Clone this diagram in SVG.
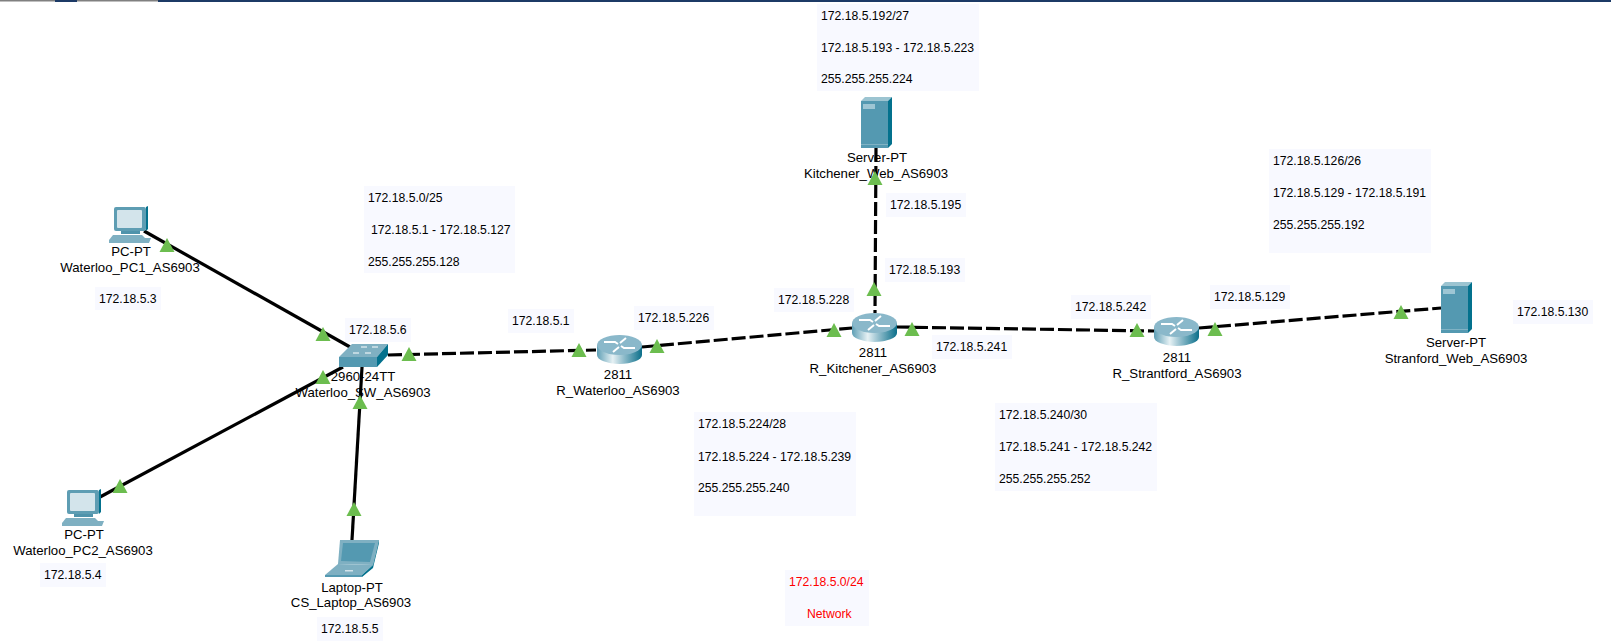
<svg xmlns="http://www.w3.org/2000/svg" width="1611" height="643" viewBox="0 0 1611 643">
<style>
text{font-family:"Liberation Sans",Arial,sans-serif;fill:#000}
.n{font-size:12.2px}
.l{font-size:13.2px;text-anchor:middle}
.red{fill:#f00}
.box{fill:#f8f9ff}
.solid{fill:none;stroke:#000;stroke-width:3.2}
.dash{fill:none;stroke:#000;stroke-width:3.2;stroke-dasharray:14 4}
</style>
<defs>
<linearGradient id="cyl" x1="0" x2="1" y1="0" y2="0">
<stop offset="0" stop-color="#5f9fb5"/><stop offset=".35" stop-color="#e6f1f4"/><stop offset=".6" stop-color="#8fbccb"/><stop offset="1" stop-color="#0b6f8a"/>
</linearGradient>
<polygon id="tri" points="0,-7 7.5,7 -7.5,7" fill="#6cbd4f"/>
<g id="server">
<polygon points="0,4 4,0 31,0 27,4" fill="#9cc4d1"/>
<rect x="0" y="4" width="27" height="47" fill="#5499b1"/>
<polygon points="27,4 31,0 31,47 27,51" fill="#03718d"/>
<rect x="2" y="7" width="12" height="5" fill="#9ec6d4"/>
<rect x="0" y="47" width="27" height="1" fill="#7fb2c4"/>
</g>
<g id="router">
<rect x="0" y="10" width="45" height="10" fill="url(#cyl)"/>
<ellipse cx="22.5" cy="20" rx="22.5" ry="9" fill="url(#cyl)"/>
<ellipse cx="22.5" cy="10" rx="22.5" ry="10" fill="#8ab8ca"/>
<path d="M7 7h11l3 2M38 13H27l-3-2M29 3l-6 5M16 17l6-5" fill="none" stroke="#fff" stroke-width="2"/>
</g>
<g id="switch">
<polygon points="0,13 13,0 49,0 38,13" fill="#7fb0c2"/>
<rect x="0" y="13" width="38" height="10" fill="#5499b1"/>
<polygon points="38,13 49,0 49,11 38,23" fill="#03718d"/>
<path d="M14 9h6M26 9h6M22 3h6M33 3h6" stroke="#fff" stroke-width="1"/>
</g>
<g id="pc">
<rect x="5" y="0" width="32" height="24" rx="2" fill="#5e9db3"/>
<polygon points="37,0 39,-1 39,22 37,24" fill="#03718d"/>
<rect x="8" y="3" width="25" height="18" rx="1" fill="#d3e4eb"/>
<rect x="12" y="24" width="19" height="3" fill="#4f93ab"/>
<polygon points="4,28 33,28 36,31 36,36 0,36 0,33" fill="#7fb0c2"/>
<polygon points="36,31 42,31 40,36 36,36" fill="#7fb0c2"/>
</g>
<g id="laptop">
<polygon points="15,0 54,0 48,25 13,24" fill="#7fb0c2"/>
<polygon points="18,3 50,3 45,22 16,21" fill="#5499b1"/>
<polygon points="13,24 48,25 37,35 0,35" fill="#7fb0c2"/>
<polygon points="0,35 37,35 37,37 0,37" fill="#5499b1"/>
<polygon points="54,0 54,3 48,28 37,37 37,35 48,25" fill="#03718d"/>
<rect x="20" y="30" width="8" height="1.5" fill="#d3e4eb"/>
</g>
</defs>
<rect width="1611" height="643" fill="#fff"/>
<g id="titlebar">
<rect x="0" y="0" width="1611" height="1.5" fill="#808080"/>
<rect x="55" y="0" width="22" height="2" fill="#1c3a66"/>
<rect x="158" y="0" width="1453" height="2" fill="#1c3a66"/>
</g>
<g id="connectors">
<path class="solid" d="M144 231L350 347"/>
<path class="solid" d="M100 497L343 367"/>
<path class="solid" d="M352 540L362 367"/>
<path class="dash" d="M388 355L596 350"/>
<path class="dash" d="M642 347L852 328"/>
<path class="dash" d="M876 148L875 313"/>
<path class="dash" d="M896 327L1154 331"/>
<path class="dash" d="M1199 328L1441 308"/>
</g>
<g id="note-lan">
<rect class="box" x="364" y="186" width="151" height="87"/>
<text class="n" x="368" y="202">172.18.5.0/25</text>
<text class="n" x="371" y="234">172.18.5.1 - 172.18.5.127</text>
<text class="n" x="368" y="266">255.255.255.128</text>
</g>
<g id="note-kitchener-web">
<rect class="box" x="817" y="4" width="162" height="87"/>
<text class="n" x="821" y="20">172.18.5.192/27</text>
<text class="n" x="821" y="52">172.18.5.193 - 172.18.5.223</text>
<text class="n" x="821" y="83">255.255.255.224</text>
</g>
<g id="note-stranford-web">
<rect class="box" x="1269" y="149" width="162" height="104"/>
<text class="n" x="1273" y="165">172.18.5.126/26</text>
<text class="n" x="1273" y="197">172.18.5.129 - 172.18.5.191</text>
<text class="n" x="1273" y="229">255.255.255.192</text>
</g>
<g id="note-link-wk">
<rect class="box" x="694" y="412" width="162" height="104"/>
<text class="n" x="698" y="428">172.18.5.224/28</text>
<text class="n" x="698" y="461">172.18.5.224 - 172.18.5.239</text>
<text class="n" x="698" y="492">255.255.255.240</text>
</g>
<g id="note-link-ks">
<rect class="box" x="995" y="403" width="162" height="88"/>
<text class="n" x="999" y="419">172.18.5.240/30</text>
<text class="n" x="999" y="451">172.18.5.241 - 172.18.5.242</text>
<text class="n" x="999" y="483">255.255.255.252</text>
</g>
<g id="note-network">
<rect class="box" x="785" y="570" width="84" height="56"/>
<text class="n red" x="789" y="586">172.18.5.0/24</text>
<text class="n red" x="807" y="618">Network</text>
</g>
<g id="ip-pc1"><rect class="box" x="95" y="287" width="66" height="23"/><text class="n" x="99" y="303">172.18.5.3</text></g>
<g id="ip-pc2"><rect class="box" x="40" y="563" width="66" height="24"/><text class="n" x="44" y="579">172.18.5.4</text></g>
<g id="ip-laptop"><rect class="box" x="317" y="617" width="66" height="24"/><text class="n" x="321" y="633">172.18.5.5</text></g>
<g id="ip-switch"><rect class="box" x="345" y="318" width="66" height="24"/><text class="n" x="349" y="334">172.18.5.6</text></g>
<g id="ip-rw-lan"><rect class="box" x="508" y="309" width="66" height="24"/><text class="n" x="512" y="325">172.18.5.1</text></g>
<g id="ip-rw-wan"><rect class="box" x="634" y="306" width="80" height="24"/><text class="n" x="638" y="322">172.18.5.226</text></g>
<g id="ip-rk-wan"><rect class="box" x="774" y="288" width="80" height="24"/><text class="n" x="778" y="304">172.18.5.228</text></g>
<g id="ip-rk-web"><rect class="box" x="885" y="258" width="80" height="24"/><text class="n" x="889" y="274">172.18.5.193</text></g>
<g id="ip-server-k"><rect class="box" x="886" y="193" width="80" height="24"/><text class="n" x="890" y="209">172.18.5.195</text></g>
<g id="ip-rk-s"><rect class="box" x="932" y="335" width="80" height="24"/><text class="n" x="936" y="351">172.18.5.241</text></g>
<g id="ip-rs-k"><rect class="box" x="1071" y="295" width="80" height="24"/><text class="n" x="1075" y="311">172.18.5.242</text></g>
<g id="ip-rs-web"><rect class="box" x="1210" y="285" width="80" height="24"/><text class="n" x="1214" y="301">172.18.5.129</text></g>
<g id="ip-server-s"><rect class="box" x="1513" y="300" width="80" height="24"/><text class="n" x="1517" y="316">172.18.5.130</text></g>
<g id="Waterloo_PC1"><use href="#pc" x="109" y="207"/><text class="l" x="131" y="256">PC-PT</text><text class="l" x="130" y="272">Waterloo_PC1_AS6903</text></g>
<g id="Waterloo_PC2"><use href="#pc" x="62" y="490"/><text class="l" x="84" y="539">PC-PT</text><text class="l" x="83" y="555">Waterloo_PC2_AS6903</text></g>
<g id="CS_Laptop"><use href="#laptop" x="325" y="540"/><text class="l" x="352" y="592">Laptop-PT</text><text class="l" x="351" y="607">CS_Laptop_AS6903</text></g>
<g id="Waterloo_SW"><use href="#switch" x="339" y="344"/><text class="l" x="363" y="381">2960-24TT</text><text class="l" x="363" y="397">Waterloo_SW_AS6903</text></g>
<g id="R_Waterloo"><use href="#router" x="597" y="335"/><text class="l" x="618" y="379">2811</text><text class="l" x="618" y="395">R_Waterloo_AS6903</text></g>
<g id="R_Kitchener"><use href="#router" x="852" y="313"/><text class="l" x="873" y="357">2811</text><text class="l" x="873" y="373">R_Kitchener_AS6903</text></g>
<g id="R_Strantford"><use href="#router" x="1154" y="317"/><text class="l" x="1177" y="362">2811</text><text class="l" x="1177" y="378">R_Strantford_AS6903</text></g>
<g id="Kitchener_Web"><use href="#server" x="861" y="97"/><text class="l" x="877" y="162">Server-PT</text><text class="l" x="876" y="178">Kitchener_Web_AS6903</text></g>
<g id="Stranford_Web"><use href="#server" x="1441" y="282"/><text class="l" x="1456" y="347">Server-PT</text><text class="l" x="1456" y="363">Stranford_Web_AS6903</text></g>
<g id="link-lights">
<use href="#tri" x="167" y="245"/><use href="#tri" x="323" y="334"/><use href="#tri" x="323" y="377"/><use href="#tri" x="409" y="354"/><use href="#tri" x="360" y="402"/><use href="#tri" x="120" y="486"/><use href="#tri" x="354" y="509"/><use href="#tri" x="579" y="350"/><use href="#tri" x="657" y="346"/><use href="#tri" x="834" y="330"/><use href="#tri" x="912" y="329"/><use href="#tri" x="875" y="178"/><use href="#tri" x="874" y="289"/><use href="#tri" x="1137" y="330"/><use href="#tri" x="1215" y="329"/><use href="#tri" x="1401" y="312"/>
</g>
</svg>
